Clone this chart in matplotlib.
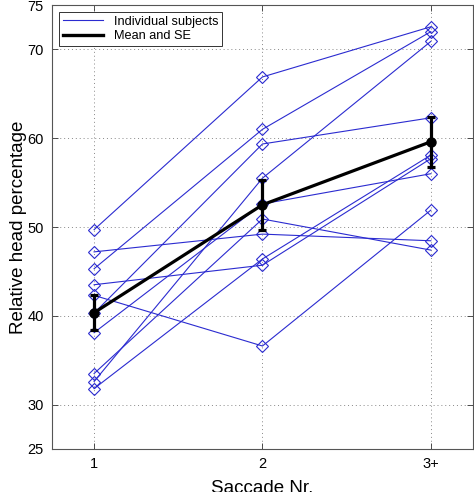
import matplotlib
matplotlib.use("Agg")
import matplotlib.pyplot as plt
from matplotlib.lines import Line2D

plt.rcParams['font.family'] = ['Liberation Sans', 'DejaVu Sans']

# Data
x_labels = ['1', '2', '3+']
x_pos = [1, 2, 3]

subj_s1 = [49.7, 47.2, 45.3, 43.5, 42.3, 40.3, 38.1, 33.5, 32.6, 31.8]
subj_s2 = [66.9, 49.2, 61.0, 45.7, 36.6, 59.35, 52.6, 50.9, 55.5, 46.4]
subj_s3 = [72.55, 48.45, 72.0, 57.7, 51.9, 62.3, 56.0, 47.4, 70.9, 58.1]

mean_vals = [40.35, 52.5, 59.6]
se_vals = [1.95, 2.8, 2.8]

y_ticks = [25, 30, 40, 50, 60, 70, 75]

fig = plt.figure(figsize=(4.74, 4.92), dpi=100)
ax = fig.add_axes([0.1097, 0.0874, 0.888, 0.9024])

blue = '#2b2bd0'
for a, b, c in zip(subj_s1, subj_s2, subj_s3):
    ax.plot(x_pos, [a, b, c], color=blue, lw=0.8, marker='D', markersize=5.8,
            markerfacecolor='none', markeredgecolor=blue, markeredgewidth=0.8, zorder=2)

ax.errorbar(x_pos, mean_vals, yerr=se_vals, color='black', lw=2.3, marker='o',
            markersize=6.5, markerfacecolor='black', capsize=2.8, capthick=2.3,
            elinewidth=2.3, zorder=3)

ax.set_xlim(0.75, 3.25)
ax.set_ylim(25, 75)
ax.set_xticks(x_pos)
ax.set_xticklabels(x_labels)
ax.set_yticks(y_ticks)
ax.set_yticklabels([str(t) for t in y_ticks])
ax.tick_params(direction='in', top=True, right=True, labelsize=10.5, length=4,
               width=0.6, colors='#333333', labelcolor='black', pad=6)
ax.grid(True, linestyle=(0, (1, 3)), color='#888888', lw=0.7)
for s in ax.spines.values():
    s.set_color('#555555')
    s.set_linewidth(0.8)

ax.set_ylabel('Relative head percentage', fontsize=13.5, labelpad=0)
ax.set_xlabel('Saccade Nr.', fontsize=13.5, labelpad=6)

handles = [Line2D([], [], color=blue, lw=0.8),
           Line2D([], [], color='black', lw=2.4)]
leg = ax.legend(handles, ['Individual subjects', 'Mean and SE'], loc='upper left',
                bbox_to_anchor=(0.01, 0.99), fontsize=9.2, fancybox=False,
                framealpha=1, edgecolor='#333333', borderpad=0.3,
                handlelength=3.2, labelspacing=0.2, borderaxespad=0.2)
leg.get_frame().set_linewidth(0.7)

fig.savefig('out.png', dpi=100)
